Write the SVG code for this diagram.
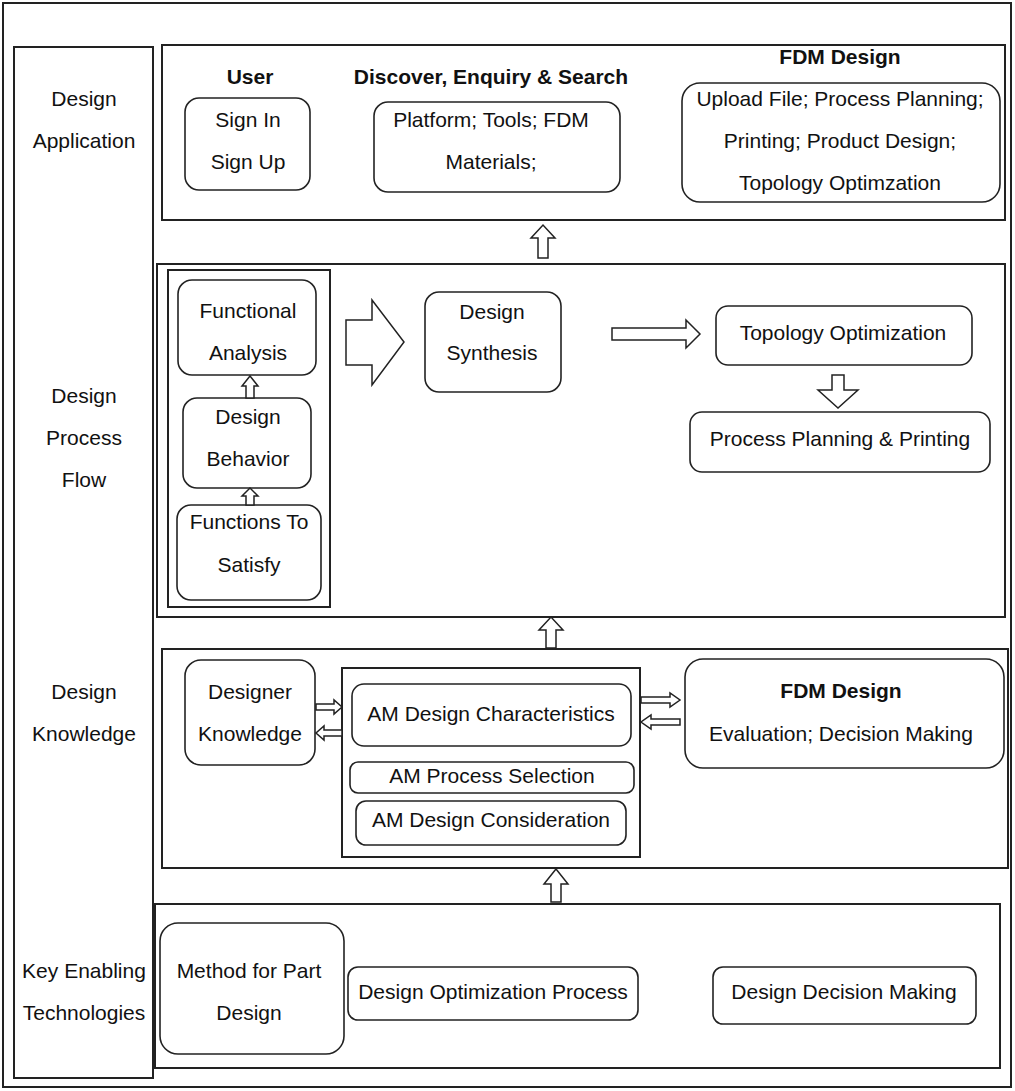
<svg xmlns="http://www.w3.org/2000/svg" width="1015" height="1091" viewBox="0 0 1015 1091">
<style>
.b{fill:#fff;stroke:#222;stroke-width:2}
.n{fill:#fff;stroke:#222;stroke-width:1.6}
.a{fill:#fff;stroke:#222;stroke-width:1.5}
text{font-family:"Liberation Sans",Arial,sans-serif;font-size:21px;fill:#111;text-anchor:middle;dominant-baseline:middle}
.h{font-weight:bold}
</style>
<rect x="0" y="0" width="1015" height="1091" fill="#fff"/>
<rect class="b" x="3" y="3" width="1008" height="1084"/>
<rect class="b" x="14" y="47" width="139" height="1031"/>
<g id="labels">
<text x="84" y="100">Design</text><text x="84" y="142">Application</text>
<text x="84" y="397">Design</text><text x="84" y="439">Process</text><text x="84" y="481">Flow</text>
<text x="84" y="693">Design</text><text x="84" y="735">Knowledge</text>
<text x="84" y="972">Key Enabling</text><text x="84" y="1014">Technologies</text>
</g>
<rect class="b" x="162" y="45" width="843" height="175"/>
<rect class="b" x="157" y="264" width="848" height="353"/>
<rect class="b" x="162" y="649" width="846" height="219"/>
<rect class="b" x="155" y="904" width="845" height="164"/>
<g id="user"><text class="h" x="250" y="78">User</text><rect class="n" x="185" y="98" width="125" height="92" rx="14"/><text x="248" y="121">Sign In</text><text x="248" y="163">Sign Up</text></g>
<g id="discover"><text class="h" x="491" y="78">Discover, Enquiry &amp; Search</text><rect class="n" x="374" y="102" width="246" height="90" rx="14"/><text x="491" y="121">Platform; Tools; FDM</text><text x="491" y="163">Materials;</text></g>
<g id="fdm1"><text class="h" x="840" y="58">FDM Design</text><rect class="n" x="682" y="83" width="318" height="119" rx="18"/><text x="840" y="100">Upload File; Process Planning;</text><text x="840" y="142">Printing; Product Design;</text><text x="840" y="184">Topology Optimzation</text></g>
<rect class="b" x="168" y="270" width="162" height="337"/>
<g id="fa"><rect class="n" x="178" y="280" width="138" height="95" rx="14"/><text x="248" y="312">Functional</text><text x="248" y="354">Analysis</text></g>
<g id="db"><rect class="n" x="183" y="398" width="128" height="90" rx="14"/><text x="248" y="418">Design</text><text x="248" y="460">Behavior</text></g>
<g id="fs"><rect class="n" x="177" y="505" width="144" height="95" rx="14"/><text x="249" y="523">Functions To</text><text x="249" y="566">Satisfy</text></g>
<g id="ds"><rect class="n" x="425" y="292" width="136" height="100" rx="14"/><text x="492" y="313">Design</text><text x="492" y="354">Synthesis</text></g>
<g id="to"><rect class="n" x="716" y="306" width="256" height="59" rx="12"/><text x="843" y="334">Topology Optimization</text></g>
<g id="pp"><rect class="n" x="690" y="412" width="300" height="60" rx="12"/><text x="840" y="440">Process Planning &amp; Printing</text></g>
<g id="dk"><rect class="n" x="185" y="660" width="130" height="105" rx="16"/><text x="250" y="693">Designer</text><text x="250" y="735">Knowledge</text></g>
<rect class="b" x="342" y="668" width="298" height="189"/>
<g id="amc"><rect class="n" x="352" y="684" width="279" height="62" rx="12"/><text x="491" y="715">AM Design Characteristics</text></g>
<g id="amp"><rect class="n" x="350" y="762" width="284" height="31" rx="8"/><text x="492" y="777">AM Process Selection</text></g>
<g id="amd"><rect class="n" x="356" y="801" width="270" height="44" rx="10"/><text x="491" y="821">AM Design Consideration</text></g>
<g id="fdm2"><rect class="n" x="685" y="659" width="319" height="109" rx="18"/><text class="h" x="841" y="692">FDM Design</text><text x="841" y="735">Evaluation; Decision Making</text></g>
<g id="mpd"><rect class="n" x="160" y="923" width="184" height="131" rx="18"/><text x="249" y="972">Method for Part</text><text x="249" y="1014">Design</text></g>
<g id="dop"><rect class="n" x="348" y="967" width="290" height="53" rx="10"/><text x="493" y="993">Design Optimization Process</text></g>
<g id="ddm"><rect class="n" x="713" y="967" width="263" height="57" rx="10"/><text x="844" y="993">Design Decision Making</text></g>
<g id="connectors">
<polygon class="a" points="538,258 548,258 548,238 555,238 543,225 531,238 538,238"/>
<polygon class="a" points="546,648 556,648 556,630 563,630 551,617 539,630 546,630"/>
<polygon class="a" points="551,902 561,902 561,884 568,884 556,869 544,884 551,884"/>
<polygon class="a" points="246,398 254,398 254,386 258,386 250,376 242,386 246,386"/>
<polygon class="a" points="246,505 254,505 254,496 258,496 250,488 242,496 246,496"/>
<polygon class="a" points="346,320 372,320 372,300 404,342 372,385 372,365 346,365"/>
<polygon class="a" points="612,328 686,328 686,320 700,334 686,348 686,340 612,340"/>
<polygon class="a" points="832,375 844,375 844,390 858,390 838,408 818,390 832,390"/>
<polygon class="a" points="316,704 334,704 334,700 342,707 334,714 334,710 316,710"/>
<polygon class="a" points="342,730 324,730 324,726 316,733 324,740 324,736 342,736"/>
<polygon class="a" points="641,697 670,697 670,693 680,700 670,707 670,703 641,703"/>
<polygon class="a" points="680,719 651,719 651,715 641,722 651,729 651,725 680,725"/>
</g>
</svg>
